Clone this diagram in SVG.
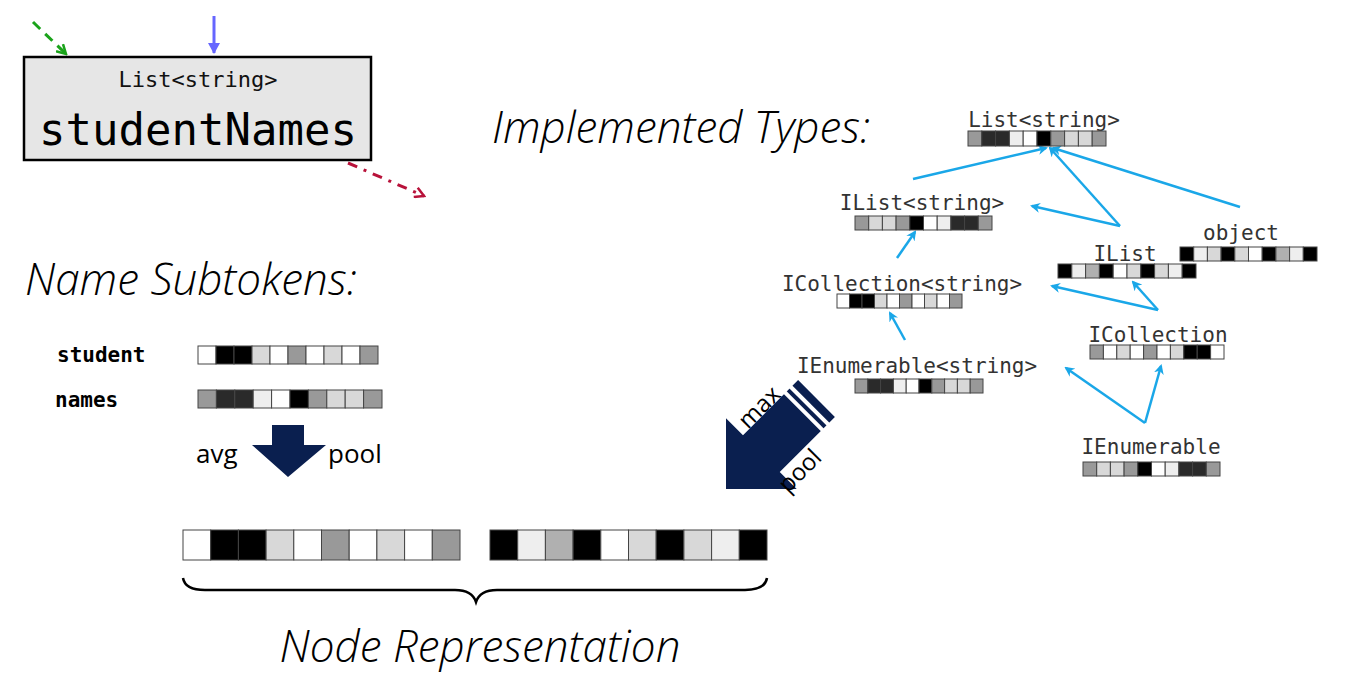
<svg xmlns="http://www.w3.org/2000/svg" width="1358" height="692" viewBox="0 0 1358 692">
<style>
.mono{font-family:"DejaVu Sans Mono","Liberation Mono",monospace;fill:#333;font-size:21px;text-anchor:middle}
.title{font-family:"Open Sans","Noto Sans",sans-serif;font-style:italic;font-weight:300;font-size:44px;fill:#000}
.lbl{font-family:"Open Sans","Noto Sans",sans-serif;font-size:26px;fill:#000}
.cell{stroke:#444;stroke-width:1}
.W{fill:#fff}.B{fill:#000}.D{fill:#2a2a2a}.G{fill:#999}.L{fill:#d8d8d8}.E{fill:#eee}.M{fill:#b0b0b0}
.blue{stroke:#1aa7e8;stroke-width:2.5;fill:none;marker-end:url(#ab)}
</style>
<defs>
<marker id="ab" markerWidth="10" markerHeight="10" refX="8" refY="5" orient="auto" markerUnits="userSpaceOnUse"><path d="M0,0 L10,5 L0,10 L3,5z" fill="#1aa7e8"/></marker>
<marker id="ag" markerWidth="12" markerHeight="12" refX="10" refY="6" orient="auto" markerUnits="userSpaceOnUse"><path d="M1,1 L10,6 L1,11" fill="none" stroke="#1aa31a" stroke-width="2.5"/></marker>
<marker id="ar" markerWidth="12" markerHeight="12" refX="10" refY="6" orient="auto" markerUnits="userSpaceOnUse"><path d="M1,1 L10,6 L1,11" fill="none" stroke="#b8123a" stroke-width="2.5"/></marker>
<marker id="ap" markerWidth="12" markerHeight="12" refX="10" refY="6" orient="auto" markerUnits="userSpaceOnUse"><path d="M0,0 L11,6 L0,12z" fill="#6666ff"/></marker>
</defs>
<rect width="1358" height="692" fill="#fff"/>

<g id="connectors">
<line x1="33" y1="22" x2="66" y2="54" stroke="#1aa31a" stroke-width="3" stroke-dasharray="10,7" marker-end="url(#ag)"/>
<line x1="214" y1="16" x2="214" y2="53" stroke="#6666ff" stroke-width="3" marker-end="url(#ap)"/>
<line x1="348" y1="163" x2="424" y2="196" stroke="#b8123a" stroke-width="3" stroke-dasharray="10,7,3,7" marker-end="url(#ar)"/>
<line class="blue" x1="913" y1="179" x2="1046" y2="148"/>
<line class="blue" x1="1120" y1="226" x2="1050" y2="148"/>
<line class="blue" x1="1240" y1="207" x2="1053" y2="148"/>
<line class="blue" x1="1120" y1="226" x2="1032" y2="206"/>
<line class="blue" x1="897" y1="258" x2="915" y2="232"/>
<line class="blue" x1="1158" y1="310" x2="1052" y2="286"/>
<line class="blue" x1="1158" y1="310" x2="1133" y2="282"/>
<line class="blue" x1="905" y1="340" x2="890" y2="313"/>
<line class="blue" x1="1145" y1="423" x2="1066" y2="368"/>
<line class="blue" x1="1145" y1="423" x2="1161" y2="366"/>
</g>

<g id="node-studentNames">
<rect x="24" y="57" width="347" height="103" fill="#e6e6e6" stroke="#000" stroke-width="2.5"/>
<text class="mono" x="198" y="87" style="fill:#111;font-size:22px">List&lt;string&gt;</text>
<text class="mono" x="198" y="145" style="fill:#000;font-size:44px">studentNames</text>
</g>

<text class="title" x="492" y="143">Implemented Types:</text>
<text class="title" x="25" y="295">Name Subtokens:</text>
<text class="title" x="480" y="662" text-anchor="middle">Node Representation</text>

<g id="subtokens">
<text class="mono" x="57" y="362" style="text-anchor:start;fill:#000;font-weight:bold;font-size:21px">student</text>
<text class="mono" x="55" y="407" style="text-anchor:start;fill:#000;font-weight:bold;font-size:21px">names</text>
<g class="cell" transform="translate(198,346)">
<rect class="W" x="0" width="18" height="18"/><rect class="B" x="18" width="18" height="18"/><rect class="B" x="36" width="18" height="18"/><rect class="L" x="54" width="18" height="18"/><rect class="W" x="72" width="18" height="18"/><rect class="G" x="90" width="18" height="18"/><rect class="W" x="108" width="18" height="18"/><rect class="L" x="126" width="18" height="18"/><rect class="W" x="144" width="18" height="18"/><rect class="G" x="162" width="18" height="18"/></g>
<g class="cell" transform="translate(198,390)">
<rect class="G" x="0" width="18.4" height="18"/><rect class="D" x="18.4" width="18.4" height="18"/><rect class="D" x="36.8" width="18.4" height="18"/><rect class="E" x="55.2" width="18.4" height="18"/><rect class="W" x="73.6" width="18.4" height="18"/><rect class="B" x="92" width="18.4" height="18"/><rect class="G" x="110.4" width="18.4" height="18"/><rect class="L" x="128.8" width="18.4" height="18"/><rect class="L" x="147.2" width="18.4" height="18"/><rect class="G" x="165.6" width="18.4" height="18"/></g>
</g>

<g id="avgpool">
<path d="M272,425 H304 V445 H326 L288,477 L252,445 H272 Z" fill="#0a1f4f"/>
<text class="lbl" x="196" y="463">avg</text>
<text class="lbl" x="328" y="463">pool</text>
</g>

<g id="maxpool">
<g transform="translate(726,489) rotate(135)">
<path d="M0,0 L-50,-50 L-50,-26 L-128,-26 L-128,26 L-50,26 L-50,50 Z" fill="#0a1f4f"/>
<rect x="-112" y="-27" width="4" height="54" fill="#fff"/>
<rect x="-120" y="-27" width="4" height="54" fill="#fff"/>
</g>
<text class="lbl" x="748" y="430" transform="rotate(-45 748 430)" style="font-size:24px">max</text>
<text class="lbl" x="788" y="494" transform="rotate(-45 788 494)" style="font-size:24px">pool</text>
</g>

<g id="node-representation" class="cell">
<g transform="translate(183,530)">
<rect class="W" x="0" width="27.7" height="30"/><rect class="B" x="27.7" width="27.7" height="30"/><rect class="B" x="55.4" width="27.7" height="30"/><rect class="L" x="83.1" width="27.7" height="30"/><rect class="W" x="110.8" width="27.7" height="30"/><rect class="G" x="138.5" width="27.7" height="30"/><rect class="W" x="166.2" width="27.7" height="30"/><rect class="L" x="193.9" width="27.7" height="30"/><rect class="W" x="221.6" width="27.7" height="30"/><rect class="G" x="249.3" width="27.7" height="30"/></g>
<g transform="translate(490,530)">
<rect class="B" x="0" width="27.7" height="30"/><rect class="E" x="27.7" width="27.7" height="30"/><rect class="M" x="55.4" width="27.7" height="30"/><rect class="B" x="83.1" width="27.7" height="30"/><rect class="W" x="110.8" width="27.7" height="30"/><rect class="L" x="138.5" width="27.7" height="30"/><rect class="B" x="166.2" width="27.7" height="30"/><rect class="L" x="193.9" width="27.7" height="30"/><rect class="E" x="221.6" width="27.7" height="30"/><rect class="B" x="249.3" width="27.7" height="30"/></g>
<path d="M183,578 Q185,590 205,590 L455,590 Q472,590 476,602 Q480,590 497,590 L745,590 Q765,590 767,578" fill="none" stroke="#000" stroke-width="2.5"/>
</g>

<g id="type-List">
<text class="mono" x="1044" y="127">List&lt;string&gt;</text>
<g class="cell" transform="translate(968,131)"><rect class="G" x="0" width="13.8" height="15"/><rect class="D" x="13.8" width="13.8" height="15"/><rect class="D" x="27.6" width="13.8" height="15"/><rect class="E" x="41.4" width="13.8" height="15"/><rect class="W" x="55.2" width="13.8" height="15"/><rect class="B" x="69" width="13.8" height="15"/><rect class="G" x="82.8" width="13.8" height="15"/><rect class="L" x="96.6" width="13.8" height="15"/><rect class="L" x="110.4" width="13.8" height="15"/><rect class="G" x="124.2" width="13.8" height="15"/></g>
</g>
<g id="type-IListString">
<text class="mono" x="922" y="210">IList&lt;string&gt;</text>
<g class="cell" transform="translate(855,216)"><rect class="G" x="0" width="13.7" height="14"/><rect class="L" x="13.7" width="13.7" height="14"/><rect class="L" x="27.4" width="13.7" height="14"/><rect class="G" x="41.1" width="13.7" height="14"/><rect class="B" x="54.8" width="13.7" height="14"/><rect class="W" x="68.5" width="13.7" height="14"/><rect class="E" x="82.2" width="13.7" height="14"/><rect class="D" x="95.9" width="13.7" height="14"/><rect class="D" x="109.6" width="13.7" height="14"/><rect class="G" x="123.3" width="13.7" height="14"/></g>
</g>
<g id="type-object">
<text class="mono" x="1241" y="240">object</text>
<g class="cell" transform="translate(1180,247)"><rect class="B" x="0" width="13.7" height="14"/><rect class="E" x="13.7" width="13.7" height="14"/><rect class="L" x="27.4" width="13.7" height="14"/><rect class="B" x="41.1" width="13.7" height="14"/><rect class="L" x="54.8" width="13.7" height="14"/><rect class="W" x="68.5" width="13.7" height="14"/><rect class="B" x="82.2" width="13.7" height="14"/><rect class="M" x="95.9" width="13.7" height="14"/><rect class="E" x="109.6" width="13.7" height="14"/><rect class="B" x="123.3" width="13.7" height="14"/></g>
</g>
<g id="type-IList">
<text class="mono" x="1125" y="261">IList</text>
<g class="cell" transform="translate(1058,264)"><rect class="B" x="0" width="13.8" height="14"/><rect class="E" x="13.8" width="13.8" height="14"/><rect class="M" x="27.6" width="13.8" height="14"/><rect class="B" x="41.4" width="13.8" height="14"/><rect class="W" x="55.2" width="13.8" height="14"/><rect class="L" x="69" width="13.8" height="14"/><rect class="B" x="82.8" width="13.8" height="14"/><rect class="L" x="96.6" width="13.8" height="14"/><rect class="E" x="110.4" width="13.8" height="14"/><rect class="B" x="124.2" width="13.8" height="14"/></g>
</g>
<g id="type-ICollectionString">
<text class="mono" x="902" y="291">ICollection&lt;string&gt;</text>
<g class="cell" transform="translate(837,294)"><rect class="W" x="0" width="12.5" height="14"/><rect class="B" x="12.5" width="12.5" height="14"/><rect class="B" x="25" width="12.5" height="14"/><rect class="L" x="37.5" width="12.5" height="14"/><rect class="W" x="50" width="12.5" height="14"/><rect class="G" x="62.5" width="12.5" height="14"/><rect class="W" x="75" width="12.5" height="14"/><rect class="L" x="87.5" width="12.5" height="14"/><rect class="W" x="100" width="12.5" height="14"/><rect class="G" x="112.5" width="12.5" height="14"/></g>
</g>
<g id="type-ICollection">
<text class="mono" x="1158" y="342">ICollection</text>
<g class="cell" transform="translate(1090,345)"><rect class="G" x="0" width="13.4" height="14"/><rect class="W" x="13.4" width="13.4" height="14"/><rect class="L" x="26.8" width="13.4" height="14"/><rect class="W" x="40.2" width="13.4" height="14"/><rect class="G" x="53.6" width="13.4" height="14"/><rect class="W" x="67" width="13.4" height="14"/><rect class="L" x="80.4" width="13.4" height="14"/><rect class="B" x="93.8" width="13.4" height="14"/><rect class="B" x="107.2" width="13.4" height="14"/><rect class="W" x="120.6" width="13.4" height="14"/></g>
</g>
<g id="type-IEnumerableString">
<text class="mono" x="917" y="373">IEnumerable&lt;string&gt;</text>
<g class="cell" transform="translate(855,379)"><rect class="G" x="0" width="12.8" height="14"/><rect class="D" x="12.8" width="12.8" height="14"/><rect class="D" x="25.6" width="12.8" height="14"/><rect class="E" x="38.4" width="12.8" height="14"/><rect class="W" x="51.2" width="12.8" height="14"/><rect class="B" x="64" width="12.8" height="14"/><rect class="G" x="76.8" width="12.8" height="14"/><rect class="L" x="89.6" width="12.8" height="14"/><rect class="L" x="102.4" width="12.8" height="14"/><rect class="G" x="115.2" width="12.8" height="14"/></g>
</g>
<g id="type-IEnumerable">
<text class="mono" x="1151" y="454">IEnumerable</text>
<g class="cell" transform="translate(1083,462)"><rect class="G" x="0" width="13.7" height="14"/><rect class="L" x="13.7" width="13.7" height="14"/><rect class="L" x="27.4" width="13.7" height="14"/><rect class="G" x="41.1" width="13.7" height="14"/><rect class="B" x="54.8" width="13.7" height="14"/><rect class="W" x="68.5" width="13.7" height="14"/><rect class="E" x="82.2" width="13.7" height="14"/><rect class="D" x="95.9" width="13.7" height="14"/><rect class="D" x="109.6" width="13.7" height="14"/><rect class="G" x="123.3" width="13.7" height="14"/></g>
</g>
</svg>
